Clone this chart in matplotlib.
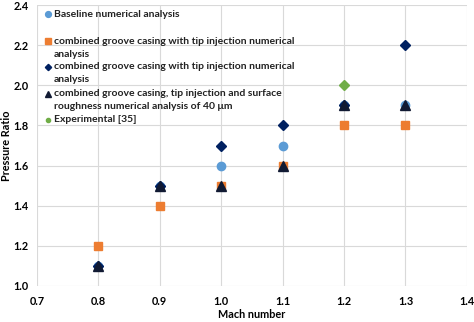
import matplotlib.pyplot as plt

plt.rcParams['font.family'] = ['Lato', 'DejaVu Sans']

mach = [0.8, 0.9, 1.0, 1.1, 1.2, 1.3]
baseline = [1.1, 1.5, 1.6, 1.7, 1.9, 1.9]
groove_tip = [1.2, 1.4, 1.5, 1.6, 1.8, 1.8]
groove_tip_2 = [1.1, 1.5, 1.7, 1.8, 1.9, 2.2]
groove_rough = [1.1, 1.5, 1.5, 1.6, 1.9, 1.9]
exp_mach = [1.2]
experimental = [2.0]

labels = [["Baseline numerical analysis"],
          ["combined groove casing with tip injection numerical", "analysis"],
          ["combined groove casing with tip injection numerical", "analysis"],
          ["combined groove casing, tip injection and surface",
           "roughness numerical analysis of 40 \u03bcm"],
          ["Experimental [35]"]]
xticks = [0.7, 0.8, 0.9, 1.0, 1.1, 1.2, 1.3, 1.4]
yticks = [1.0, 1.2, 1.4, 1.6, 1.8, 2.0, 2.2, 2.4]

fig = plt.figure(figsize=(4.74, 3.22), dpi=100)
ax = fig.add_axes([0.078, 0.112, 0.907, 0.872])

series = [
    (mach, baseline, 'o', '#5B9BD5', 6.0),
    (mach, groove_tip, 's', '#ED7D31', 6.0),
    (mach, groove_tip_2, 'D', '#002060', 5.0),
    (mach, groove_rough, '^', '#111a33', 6.5),
    (exp_mach, experimental, 'D', '#70AD47', 5.5),
]
for x, y, m, c, s in series:
    ax.plot(x, y, linestyle='none', marker=m, color=c, markersize=s)

ax.set_xlim(0.7, 1.4)
ax.set_ylim(1.0, 2.4)
ax.set_xticks(xticks)
ax.set_yticks(yticks)
ax.set_xticklabels([f"{v:.1f}" for v in xticks], fontweight='bold', fontsize=7.8)
ax.set_yticklabels([f"{v:.1f}" for v in yticks], fontweight='bold', fontsize=7.8)
ax.tick_params(axis='y', length=0, pad=6)
ax.tick_params(axis='x', length=0, pad=7)
ax.grid(True, color='#d9d9d9', linewidth=0.8)
ax.set_axisbelow(True)
for sp in ax.spines.values():
    sp.set_visible(False)
ax.set_xlabel("Mach number", fontweight='bold', fontsize=7.8, labelpad=2)
ax.set_ylabel("Pressure Ratio", fontweight='bold', fontsize=7.8, labelpad=1)

# legend drawn by hand so markers sit beside the first text line
row_tops = [0.968, 0.872, 0.780, 0.684, 0.592]
line_step = 0.046
legend_markers = [('o', '#5B9BD5', 4.2), ('s', '#ED7D31', 4.2), ('D', '#002060', 3.2),
                  ('^', '#111a33', 4.2), ('o', '#70AD47', 3)]
for yy, lines, (m, c, s) in zip(row_tops, labels, legend_markers):
    ax.plot([0.026], [yy], transform=ax.transAxes, marker=m, color=c,
            markersize=s, linestyle='none', clip_on=False)
    for i, line in enumerate(lines):
        ax.text(0.040, yy - i * line_step, line, transform=ax.transAxes,
                fontsize=7.5, fontweight='bold', va='center', ha='left',
                color='#222222')

fig.savefig("out.png", dpi=100)
